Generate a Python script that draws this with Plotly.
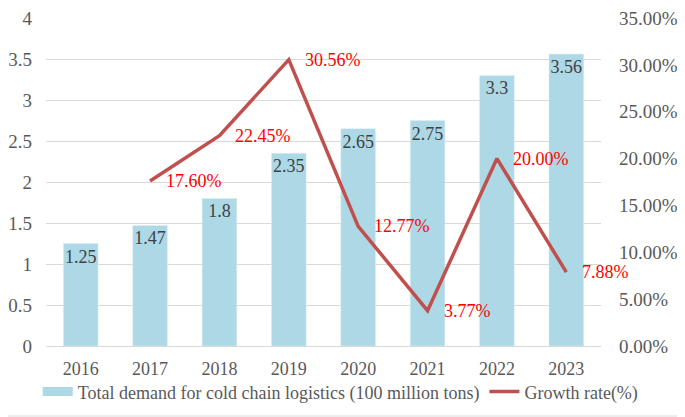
import plotly.graph_objects as go

# Data
years = ["2016", "2017", "2018", "2019", "2020", "2021", "2022", "2023"]
demand = [1.25, 1.47, 1.8, 2.35, 2.65, 2.75, 3.3, 3.56]
growth_years = ["2017", "2018", "2019", "2020", "2021", "2022", "2023"]
growth = [0.1760, 0.2245, 0.3056, 0.1277, 0.0377, 0.2000, 0.0788]

FONT = "Liberation Serif"
GREY = "#595959"
BAR = "#ADD8E6"
RED = "#C0504D"
BAR_NAME = "Total demand for cold chain logistics (100 million tons)"

fig = go.Figure()

fig.add_bar(
    x=years, y=demand, name=BAR_NAME, showlegend=False,
    marker=dict(color=BAR),
    text=[f"{v:g}" for v in demand],
    textposition="inside", insidetextanchor="end",
    textangle=0, constraintext="none",
    textfont=dict(family=FONT, size=18, color="#404040"),
    cliponaxis=False,
)
# legend entry drawn as a wide swatch, like the original
fig.add_scatter(x=[years[0]], y=[None], mode="lines", name=BAR_NAME,
                line=dict(color=BAR, width=9))

fig.add_scatter(
    x=growth_years, y=growth, yaxis="y2",
    name="Growth rate(%)", mode="lines",
    line=dict(color=RED, width=3.5),
    cliponaxis=False,
)

# percentage labels to the right of each point (category index as x)
for yr, g in zip(growth_years, growth):
    fig.add_annotation(x=years.index(yr), y=g, yref="y2", text=f"{g:.2%}",
                       showarrow=False, xanchor="left", yanchor="middle",
                       xshift=14,
                       font=dict(family=FONT, size=18, color="#FF0000"))

# the page body adds an 8px offset, so the figure is 8px smaller each way
fig.update_layout(
    width=677, height=409,
    margin=dict(l=38, r=84, t=10, b=71, autoexpand=False),
    paper_bgcolor="white", plot_bgcolor="white",
    font=dict(family=FONT, size=18, color=GREY),
    bargap=0.5,
    legend=dict(orientation="h", x=1.077, xanchor="right",
                y=-0.14, yanchor="middle", bgcolor="rgba(0,0,0,0)",
                font=dict(family=FONT, size=18, color=GREY),
                itemwidth=30, tracegroupgap=0),
    xaxis=dict(type="category", categoryorder="array", categoryarray=years,
               range=[-0.5, len(years) - 0.5],
               showgrid=False, showline=True, linecolor="#D9D9D9",
               ticks="", tickfont=dict(size=18, color=GREY),
               ticklabelstandoff=6, automargin=False),
    yaxis=dict(range=[0, 4], dtick=0.5, showgrid=True, gridcolor="#D9D9D9",
               zeroline=False, tickfont=dict(size=19, color=GREY), ticks="",
               ticklabelstandoff=13, ticklabeloverflow="allow",
               automargin=False),
    yaxis2=dict(range=[0, 0.35], dtick=0.05, tickformat=".2%", overlaying="y",
                side="right", showgrid=False, zeroline=False,
                tickfont=dict(size=19, color=GREY), ticks="",
                ticklabelstandoff=17, ticklabeloverflow="allow",
                automargin=False),
    shapes=[dict(type="rect", xref="paper", yref="paper",
                 x0=-45 / 555, x1=638 / 555, y0=-70 / 328, y1=345 / 328,
                 line=dict(color="#D9D9D9", width=1))],
)

fig.write_html("out.html")
